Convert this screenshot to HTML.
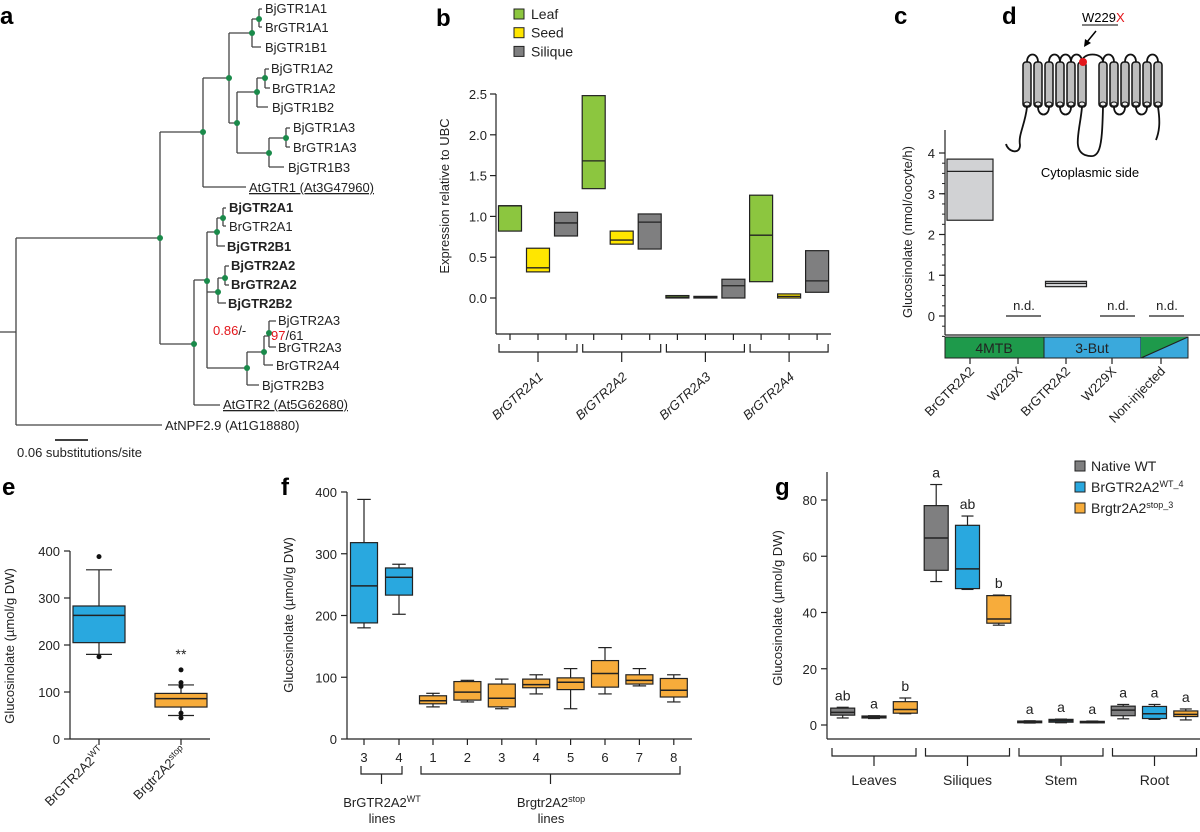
<!DOCTYPE html>
<html><head><meta charset="utf-8"><style>
html,body{margin:0;padding:0;background:#fff}
svg{display:block;font-family:"Liberation Sans",Arial,sans-serif}
</style></head><body>
<svg id="fig" width="1200" height="832" viewBox="0 0 1200 832" xmlns="http://www.w3.org/2000/svg">
<g font-weight="bold" font-size="24" fill="#000">
<text x="0" y="24">a</text>
<text x="436" y="26">b</text>
<text x="894" y="24">c</text>
<text x="1002" y="24">d</text>
<text x="2" y="495">e</text>
<text x="281" y="495">f</text>
<text x="775" y="495">g</text>
</g>
<g id="tree"></g>
<g id="pb"></g>
<g id="pc"></g>
<g id="pd">
<text x="1082" y="22" font-size="13">W229<tspan fill="#e3161b">X</tspan></text>
<line x1="1082" y1="25" x2="1118" y2="25" stroke="#000" stroke-width="1"/>
<line x1="1096" y1="31" x2="1087" y2="42" stroke="#000" stroke-width="1.5"/>
<polygon points="1084,47 1085,39 1091,43" fill="#000"/>
<text x="1090" y="177" font-size="13" text-anchor="middle">Cytoplasmic side</text>
</g>
<g id="pe"></g>
<g id="pf"></g>
<g id="pg"></g>
</svg>
<script>
// ---- panel b data ----
const bGenes = ["BrGTR2A1","BrGTR2A2","BrGTR2A3","BrGTR2A4"];
const bTissues = ["Leaf","Seed","Silique"];
const bLow = [[0.82,0.32,0.76],[1.34,0.66,0.60],[0.0,0.0,0.0],[0.20,0.0,0.07]];
const bMed = [[1.13,0.37,0.92],[1.68,0.71,0.93],[0.01,0.01,0.15],[0.77,0.02,0.21]];
const bHigh = [[1.13,0.61,1.05],[2.48,0.82,1.03],[0.03,0.02,0.23],[1.26,0.05,0.58]];
const bTicks = [0,0.5,1,1.5,2,2.5];
// ---- panel c data ----
const cCats = ["BrGTR2A2","W229X","BrGTR2A2","W229X","Non-injected"];
const cLow = [2.35,null,0.72,null,null];
const cMed = [3.55,null,0.80,null,null];
const cHigh = [3.85,null,0.85,null,null];
const cTicks = [0,1,2,3,4];
// ---- panel e data ----
const eCats = ["BrGTR2A2","Brgtr2A2"];
const eSup = ["WT","stop"];
const eStats = [[180,205,263,283,360],[50,68,86,97,115]];
const eOut = [[388,175],[147,120,112,55,45]];
const eTicks = [0,100,200,300,400];
// ---- panel f data ----
const fLines = ["3","4","1","2","3","4","5","6","7","8"];
const fStats = [[180,188,248,318,388],[202,233,262,277,283],[52,57,62,70,74],[60,63,76,93,95],[49,52,66,89,97],[73,83,88,97,104],[49,80,92,99,114],[73,84,106,127,148],[86,89,95,104,114],[60,68,79,98,104]];
const fTicks = [0,100,200,300,400];
// ---- panel g data ----
const gTissues = ["Leaves","Siliques","Stem","Root"];
const gGenotypes = ["Native WT","BrGTR2A2","Brgtr2A2"];
const gStats = [
 [[2.5,3.5,4.5,6,6.3],[2.3,2.5,2.8,3.2,3.3],[4,4.2,5.5,8.3,9.6]],
 [[51,55,66.5,78,85.5],[48.2,48.5,55.5,71,74.3],[35.5,36.2,37.7,46,46.2]],
 [[0.7,0.8,1,1.4,1.5],[0.8,1,1.5,2,2.1],[0.8,0.9,1.1,1.3,1.4]],
 [[2.2,3.3,5.3,6.7,7.3],[2,2.3,4,6.6,7.3],[1.8,3,3.8,5,5.7]]];
const gLetters = [["ab","a","b"],["a","ab","b"],["a","a","a"],["a","a","a"]];
const gTicks = [0,20,40,60,80];

const NS="http://www.w3.org/2000/svg";
function mk(parent, tag, attrs, name, text){
  const el=document.createElementNS(NS,tag);
  for(const k in attrs) el.setAttribute(k,attrs[k]);
  
  
  if(text!==undefined) el.textContent=text;
  parent.appendChild(el);
  return el;
}
function line(p,x1,y1,x2,y2,name,sw,col){return mk(p,'line',{x1,y1,x2,y2,stroke:col||'#222','stroke-width':sw||1.2},name);}
function txt(p,x,y,s,name,opt){const o=Object.assign({x,y,'font-size':13,fill:'#222'},opt||{});return mk(p,'text',o,name,s);}
function box(p,cx,w,y,st,fill,name){
  line(p,cx,y(st[0]),cx,y(st[1]),name+'-whisker-low');
  line(p,cx,y(st[3]),cx,y(st[4]),name+'-whisker-high');
  line(p,cx-w/4,y(st[0]),cx+w/4,y(st[0]),name+'-cap-low');
  line(p,cx-w/4,y(st[4]),cx+w/4,y(st[4]),name+'-cap-high');
  mk(p,'rect',{x:cx-w/2,y:y(st[3]),width:w,height:Math.max(1.5,y(st[1])-y(st[3])),fill,stroke:'#222','stroke-width':1.2},name);
  line(p,cx-w/2,y(st[2]),cx+w/2,y(st[2]),name+'-median',1.5);
}
function bracket(p,x1,x2,y,name){
  mk(p,'path',{d:`M${x1},${y-8} L${x1},${y} L${x2},${y} L${x2},${y-8} M${(x1+x2)/2},${y} L${(x1+x2)/2},${y+10}`,fill:'none',stroke:'#222','stroke-width':1.2},name);
}

// ---------- tree ----------
(function(){
  const g=document.getElementById('tree');
  const segs=[
   "M0,332H16M16,238V425M16,238H160M16,425H162",
   "M160,132V344M160,132H203M160,344H194",
   "M203,78V187M203,78H229M203,187H246",
   "M229,33V123M229,33H252M229,123H237",
   "M252,19V47M252,19H259M252,47H261M259,9V27M259,9H262M259,27H262",
   "M237,92V153M237,92H257M237,153H269",
   "M257,78V107M257,78H265M257,107H268M265,69V88M265,69H269M265,88H270",
   "M269,138V167M269,138H286M269,167H284M286,128V147M286,128H290M286,147H290",
   "M194,280V405M194,280H207M194,405H220",
   "M207,232V368M207,232H217M207,292H218M207,368H247",
   "M217,218V246M217,218H223M217,246H225M223,208V226M223,208H226M223,226H226",
   "M218,278V303M218,278H225M218,303H226M225,266V285M225,266H229M225,285H229",
   "M247,352V385M247,352H264M247,385H259",
   "M264,336V365M264,336H269M264,365H273M269,321V347M269,321H276M269,347H276"
  ];
  segs.forEach((d,i)=>mk(g,'path',{d,fill:'none',stroke:'#444','stroke-width':1.3},'tree-branch'));
  const nodes=[[160,238],[203,132],[229,78],[252,33],[259,19],[237,123],[257,92],[265,78],[269,153],[286,138],[194,344],[207,281],[217,232],[223,218],[218,292],[225,278],[247,368],[264,352],[269,333]];
  nodes.forEach(n=>mk(g,'circle',{cx:n[0],cy:n[1],r:3,fill:'#1a8a4a'},'tree-node'));
  const labs=[["BjGTR1A1",265,13,0],["BrGTR1A1",265,32,0],["BjGTR1B1",265,52,0],["BjGTR1A2",271,73,0],["BrGTR1A2",272,93,0],["BjGTR1B2",272,112,0],["BjGTR1A3",293,132,0],["BrGTR1A3",293,152,0],["BjGTR1B3",288,172,0],["AtGTR1 (At3G47960)",249,192,2],["BjGTR2A1",229,212,1],["BrGTR2A1",229,231,0],["BjGTR2B1",227,251,1],["BjGTR2A2",231,270,1],["BrGTR2A2",231,289,1],["BjGTR2B2",228,308,1],["BjGTR2A3",278,325,0],["BrGTR2A3",278,352,0],["BrGTR2A4",276,370,0],["BjGTR2B3",262,390,0],["AtGTR2 (At5G62680)",223,409,2],["AtNPF2.9 (At1G18880)",165,430,0]];
  labs.forEach(l=>{const o={'font-size':13,fill:'#222'};if(l[3]==1)o['font-weight']='bold';if(l[3]==2)o['text-decoration']='underline';txt(g,l[1],l[2],l[0],'taxon-label',o);});
  const t1=txt(g,213,335,'','bootstrap-label',{'font-size':13});t1.innerHTML='<tspan fill="#e3161b">0.86</tspan>/-';
  const t2=txt(g,271,340,'','bootstrap-label',{'font-size':13});t2.innerHTML='<tspan fill="#e3161b">97</tspan>/61';
  line(g,55,440,88,440,'scale-bar',1.5,'#000');
  txt(g,17,457,'0.06 substitutions/site','scale-bar-label',{'font-size':13});
})();

// ---------- panel b ----------
(function(){
  const g=document.getElementById('pb');
  const y=v=>298-v*81.6, x0=496;
  const cols=['#8cc63f','#ffe600','#7f7f80'];
  line(g,x0,94,x0,334,'y-axis');line(g,x0,334,831,334,'x-axis');
  bTicks.forEach(t=>{line(g,x0-6,y(t),x0,y(t),'y-tick');txt(g,x0-9,y(t)+5,t.toFixed(1),'y-tick-label',{'text-anchor':'end'});});
  const yl=txt(g,449,196,'Expression relative to UBC','y-axis-title',{'text-anchor':'middle',transform:'rotate(-90 449 196)'});
  bGenes.forEach((gene,i)=>{
    const gc=538+i*83.7;
    bTissues.forEach((t,j)=>{
      const cx=gc+(j-1)*28;
      line(g,cx,334,cx,340,'x-tick');
      mk(g,'rect',{x:cx-11.5,y:y(bHigh[i][j]),width:23,height:Math.max(1.5,y(bLow[i][j])-y(bHigh[i][j])),fill:cols[j],stroke:'#222','stroke-width':1.2},'bar-'+gene+'-'+t);
      line(g,cx-11.5,y(bMed[i][j]),cx+11.5,y(bMed[i][j]),'median-line',1.3);
    });
    bracket(g,gc-39,gc+39,352,'group-bracket');
    txt(g,gc+6,378,gene,'gene-label',{'text-anchor':'end','font-style':'italic',transform:`rotate(-42 ${gc+6} 378)`});
  });
  bTissues.forEach((t,j)=>{
    mk(g,'rect',{x:514,y:9+j*18.7,width:10,height:10,fill:cols[j],stroke:'#222','stroke-width':1},'legend-swatch-'+t);
    txt(g,531,19+j*18.7,t,'legend-entry',{'font-size':14});
  });
})();

// ---------- panel c ----------
(function(){
  const g=document.getElementById('pc');
  const y=v=>316-v*40.75, x0=945;
  line(g,x0,130,x0,335,'y-axis');line(g,x0,335,1200,335,'x-axis');
  cTicks.forEach(t=>{line(g,x0-6,y(t),x0,y(t),'y-tick');txt(g,x0-10,y(t)+5,String(t),'y-tick-label',{'text-anchor':'end'});});
  for(let v=-0.5;v<=4;v+=0.25){line(g,x0-3,y(v),x0,y(v),'y-minor-tick',1);}
  txt(g,912,232,'Glucosinolate (nmol/oocyte/h)','y-axis-title',{'text-anchor':'middle',transform:'rotate(-90 912 232)'});
  mk(g,'rect',{x:945,y:337,width:99,height:21,fill:'#1e9a4b',stroke:'#222'},'substrate-4mtb');
  mk(g,'rect',{x:1044,y:337,width:97,height:21,fill:'#3aa9dc',stroke:'#222'},'substrate-3but');
  mk(g,'polygon',{points:'1141,337 1188,337 1188,358 1141,358',fill:'#3aa9dc',stroke:'#222'},'substrate-mixed');
  mk(g,'polygon',{points:'1141,337 1188,337 1141,358',fill:'#1e9a4b'},'substrate-mixed-green');
  line(g,1141,358,1188,337,'diagonal');
  txt(g,994,353,'4MTB','substrate-label',{'text-anchor':'middle','font-size':14});
  txt(g,1092,353,'3-But','substrate-label',{'text-anchor':'middle','font-size':14});
  const xs=[970,1018,1066,1112,1161];
  cCats.forEach((c,i)=>{
    const cx=xs[i];
    line(g,cx,358,cx,364,'x-tick');
    txt(g,cx+5,372,c,'category-label',{'text-anchor':'end',transform:`rotate(-45 ${cx+5} 372)`});
    if(cLow[i]===null){
      line(g,cx-12,y(0),cx+23,y(0),'nd-line');
      txt(g,cx+6,y(0)-6,'n.d.','nd-label',{'text-anchor':'middle'});
    } else {
      const w=i===0?46:41;
      mk(g,'rect',{x:cx-w/2,y:y(cHigh[i]),width:w,height:Math.max(2,y(cLow[i])-y(cHigh[i])),fill:'#d1d2d4',stroke:'#222','stroke-width':1.2},'uptake-box-'+i);
      line(g,cx-w/2,y(cMed[i]),cx+w/2,y(cMed[i]),'median-line');
    }
  });
})();

// ---------- panel d transporter ----------
(function(){
  const g=document.getElementById('pd');
  const xs=[1027,1038,1049,1060,1071,1082,1103,1114,1125,1136,1147,1158];
  let d='M1013,146 C1005,140 1003,152 1015,155 C1020,157 1015,146 1023,108 ';
  xs.forEach((x,i)=>{
    mk(g,'rect',{x:x-4,y:62,width:8,height:45,rx:3,fill:'#bdbdbd',stroke:'#111','stroke-width':1.5},'transmembrane-helix');
    mk(g,'ellipse',{cx:x,cy:104,rx:3,ry:2,fill:'#eee',stroke:'#111','stroke-width':1},'helix-end');
    if(i<11 && i!==5){
      const nx=xs[i+1];const top=i%2===0;
      mk(g,'path',{d: top?`M${x},62 C${x},52 ${nx},52 ${nx},62`:`M${x},107 C${x},117 ${nx},117 ${nx},107`,fill:'none',stroke:'#111','stroke-width':1.8},'helix-loop');
    }
  });
  mk(g,'path',{d:'M1027,107 C1025,125 1018,135 1020,145 C1020,155 1008,152 1006,144',fill:'none',stroke:'#111','stroke-width':1.8},'n-terminus');
  mk(g,'path',{d:'M1082,107 C1080,130 1072,150 1085,155 C1100,160 1102,150 1103,107',fill:'none',stroke:'#111','stroke-width':1.8},'central-loop');
  mk(g,'path',{d:'M1158,107 C1160,120 1160,130 1156,140',fill:'none',stroke:'#111','stroke-width':1.8},'c-terminus');
  mk(g,'path',{d:'M1060,62 C1060,52 1071,52 1071,62 M1082,62 C1082,52 1103,52 1103,62',fill:'none',stroke:'#111','stroke-width':1.8},'outer-loop');
  mk(g,'circle',{cx:1083,cy:62,r:4,fill:'#e3161b'},'mutation-site');
})();

// ---------- panel e ----------
(function(){
  const g=document.getElementById('pe');
  const y=v=>739-v*0.47, x0=70;
  line(g,x0,551,x0,739,'y-axis');line(g,x0,739,210,739,'x-axis');
  eTicks.forEach(t=>{line(g,x0-6,y(t),x0,y(t),'y-tick');txt(g,x0-10,y(t)+5,String(t),'y-tick-label',{'text-anchor':'end'});});
  txt(g,14,646,'Glucosinolate (µmol/g DW)','y-axis-title',{'text-anchor':'middle',transform:'rotate(-90 14 646)'});
  const xs=[99,181], fills=['#29a8df','#f7ac3b'];
  eCats.forEach((c,i)=>{
    box(g,xs[i],52,y,eStats[i],fills[i],'box-'+c);
    eOut[i].forEach(o=>mk(g,'circle',{cx:xs[i],cy:y(o),r:2.5,fill:'#111'},'outlier'));
    line(g,xs[i],739,xs[i],745,'x-tick');
    const t=txt(g,xs[i]+6,752,c,'category-label',{'text-anchor':'end',transform:`rotate(-45 ${xs[i]+6} 752)`});
    const s=document.createElementNS(NS,'tspan');s.setAttribute('baseline-shift','super');s.setAttribute('font-size','9');s.textContent=eSup[i];t.appendChild(s);
  });
  txt(g,181,659,'**','significance',{'text-anchor':'middle','font-size':14});
})();

// ---------- panel f ----------
(function(){
  const g=document.getElementById('pf');
  const y=v=>739-v*0.6175, x0=347;
  line(g,x0,492,x0,739,'y-axis');line(g,x0,739,692,739,'x-axis');
  fTicks.forEach(t=>{line(g,x0-6,y(t),x0,y(t),'y-tick');txt(g,x0-10,y(t)+5,String(t),'y-tick-label',{'text-anchor':'end'});});
  txt(g,293,615,'Glucosinolate (µmol/g DW)','y-axis-title',{'text-anchor':'middle',transform:'rotate(-90 293 615)'});
  fLines.forEach((l,i)=>{
    const cx=i<2?364+i*35:433+(i-2)*34.4;
    box(g,cx,27,y,fStats[i],i<2?'#29a8df':'#f7ac3b','box-line-'+l);
    line(g,cx,739,cx,745,'x-tick');
    txt(g,cx,762,l,'x-tick-label',{'text-anchor':'middle'});
  });
  bracket(g,361,402,774,'wt-bracket');bracket(g,421,680,774,'stop-bracket');
  const a=txt(g,382,807,'BrGTR2A2','group-label',{'text-anchor':'middle'});a.innerHTML='BrGTR2A2<tspan baseline-shift="super" font-size="9">WT</tspan>';
  txt(g,382,823,'lines','group-label-2',{'text-anchor':'middle'});
  const b=txt(g,551,807,'Brgtr2A2','group-label',{'text-anchor':'middle'});b.innerHTML='Brgtr2A2<tspan baseline-shift="super" font-size="9">stop</tspan>';
  txt(g,551,823,'lines','group-label-2',{'text-anchor':'middle'});
})();

// ---------- panel g ----------
(function(){
  const g=document.getElementById('pg');
  const y=v=>725-v*2.8125, x0=827;
  line(g,x0,472,x0,739,'y-axis');line(g,x0,739,1200,739,'x-axis');
  gTicks.forEach(t=>{line(g,x0-6,y(t),x0,y(t),'y-tick');txt(g,x0-10,y(t)+5,String(t),'y-tick-label',{'text-anchor':'end'});});
  txt(g,782,608,'Glucosinolate (µmol/g DW)','y-axis-title',{'text-anchor':'middle',transform:'rotate(-90 782 608)'});
  const fills=['#7f7f80','#29a8df','#f7ac3b'];
  gTissues.forEach((t,i)=>{
    const gc=874+i*93.5;
    gGenotypes.forEach((gt,j)=>{
      const cx=gc+(j-1)*31.3, st=gStats[i][j];
      box(g,cx,24,y,st,fills[j],'box-'+t+'-'+j);
      txt(g,cx,y(st[4])-7,gLetters[i][j],'significance-letter',{'text-anchor':'middle','font-size':14});
    });
    bracket(g,gc-42,gc+42,756,'tissue-bracket');
    txt(g,gc,785,t,'tissue-label',{'text-anchor':'middle','font-size':14});
  });
  const labs=['Native WT','BrGTR2A2<tspan baseline-shift="super" font-size="9">WT_4</tspan>','Brgtr2A2<tspan baseline-shift="super" font-size="9">stop_3</tspan>'];
  labs.forEach((l,j)=>{
    mk(g,'rect',{x:1075,y:461+j*21,width:10,height:10,fill:fills[j],stroke:'#222'},'legend-swatch');
    const t=txt(g,1091,471+j*21,'','legend-entry',{'font-size':14});t.innerHTML=l;
  });
})();
</script>
</body></html>
